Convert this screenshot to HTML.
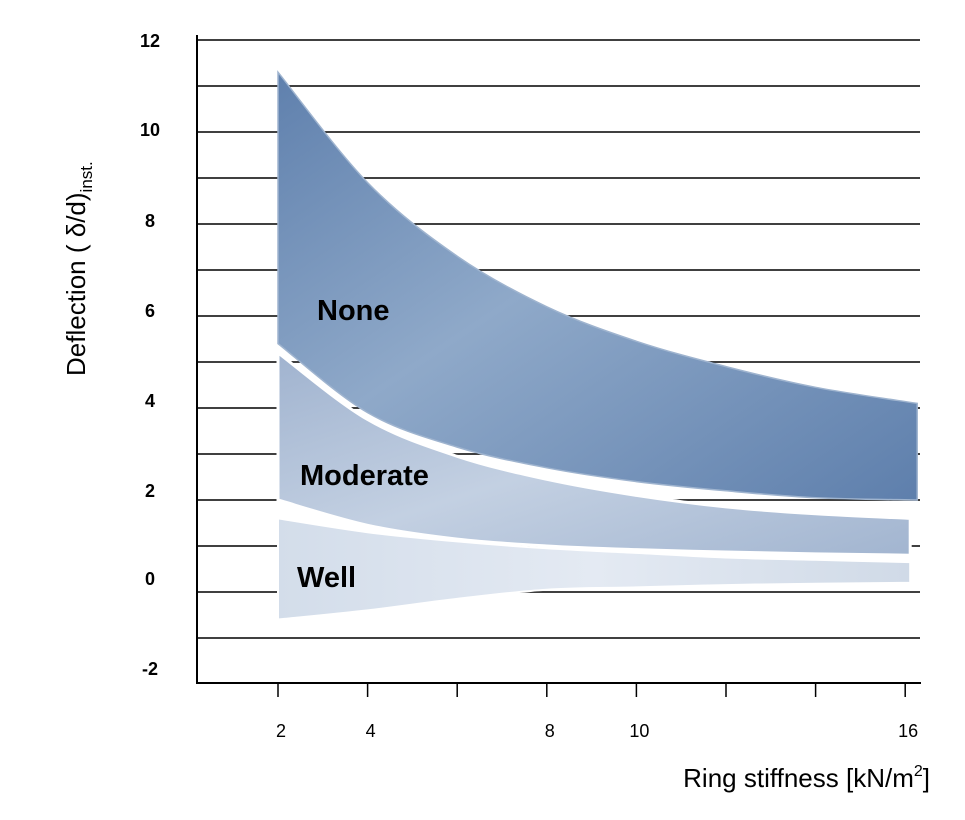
<!DOCTYPE html>
<html><head><meta charset="utf-8"><style>
html,body{margin:0;padding:0;background:#fff;overflow:hidden;}
svg{display:block;font-family:"Liberation Sans",sans-serif;}
</style></head><body>
<svg id="chart" width="965" height="820" viewBox="0 0 965 820">
<defs>
<linearGradient id="gNone" x1="0" y1="0" x2="1" y2="1">
<stop offset="0" stop-color="#5f80ad"/><stop offset="0.45" stop-color="#8fa9c9"/><stop offset="1" stop-color="#5e7fac"/>
</linearGradient>
<linearGradient id="gMod" x1="0" y1="0" x2="1" y2="1">
<stop offset="0" stop-color="#a0b3cf"/><stop offset="0.5" stop-color="#c3d0e2"/><stop offset="1" stop-color="#a2b5d0"/>
</linearGradient>
<linearGradient id="gWell" x1="0" y1="0" x2="1" y2="0">
<stop offset="0" stop-color="#d3ddea"/><stop offset="0.5" stop-color="#e4eaf3"/><stop offset="1" stop-color="#d0dae7"/>
</linearGradient>
</defs>
<g id="grid"></g>
<g id="bands"></g>
<g id="axes"></g>
<text x="317" y="320" font-size="29" font-weight="bold" fill="#000">None</text>
<text x="300" y="485" font-size="29" font-weight="bold" fill="#000">Moderate</text>
<text x="297" y="587" font-size="29" font-weight="bold" fill="#000">Well</text>
<text transform="translate(85,376) rotate(-90)" font-size="26" fill="#000">Deflection ( δ/d)<tspan font-size="17" dy="7">inst.</tspan></text>
<text x="930" y="787" text-anchor="end" font-size="26" fill="#000">Ring stiffness [kN/m<tspan font-size="16" dy="-11">2</tspan><tspan dy="11">]</tspan></text>
</svg>
<script>
const stiffness=[2,4,6,8,10,12,14,16];
const noneUpper=[11.3,8.9,7.3,6.2,5.45,4.9,4.45,4.1];
const noneLower=[5.4,3.9,3.15,2.7,2.4,2.2,2.05,2.0];
const modUpper=[5.2,3.75,2.95,2.45,2.1,1.85,1.7,1.6];
const modLower=[2.0,1.45,1.15,1.0,0.92,0.87,0.83,0.8];
const wellUpper=[1.6,1.3,1.1,0.95,0.85,0.75,0.7,0.65];
const wellLower=[-0.6,-0.4,-0.15,0.05,0.1,0.15,0.18,0.2];
const yTicks=[12,10,8,6,4,2,0,-2];
const xTicks=[2,4,8,10,16];
const xMinor=[2,4,6,8,10,12,14,16];
const NS="http://www.w3.org/2000/svg";
function X(s){return 278+(s-2)*44.8;}
function Y(v){return 592-v*46;}
function mk(tag,attrs,parent){const e=document.createElementNS(NS,tag);for(const k in attrs)e.setAttribute(k,attrs[k]);parent.appendChild(e);return e;}
function P(p){return p[0].toFixed(2)+" "+p[1].toFixed(2);}
function curveSegs(pts){let d="";for(let i=0;i<pts.length-1;i++){const p0=pts[i-1]||pts[i],p1=pts[i],p2=pts[i+1],p3=pts[i+2]||p2;const c1=[p1[0]+(p2[0]-p0[0])/6,p1[1]+(p2[1]-p0[1])/6],c2=[p2[0]-(p3[0]-p1[0])/6,p2[1]-(p3[1]-p1[1])/6];d+=" C "+P(c1)+" "+P(c2)+" "+P(p2);}return d;}
function band(up,lo,ext,fill,stroke,sw,name){const g=document.getElementById('bands');const n=stiffness.length;const u=stiffness.map((s,i)=>[X(s)+(i===n-1?ext:0),Y(up[i])]);const l=stiffness.map((s,i)=>[X(s)+(i===n-1?ext:0),Y(lo[i])]).reverse();
const d="M "+P(u[0])+curveSegs(u)+" L "+P(l[0])+curveSegs(l)+" Z";
const p=mk('path',{d:d,fill:fill,stroke:stroke,'stroke-width':sw},g);

}
const grid=document.getElementById('grid');
for(let v=-1;v<=12;v++){const l=mk('line',{x1:197,x2:920,y1:Y(v),y2:Y(v),stroke:'#000','stroke-width':1.5},grid);

}
band(wellUpper,wellLower,5,'url(#gWell)','#ffffff',2,'band-well');
band(modUpper,modLower,5,'url(#gMod)','#ffffff',3,'band-moderate');
band(noneUpper,noneLower,12,'url(#gNone)','#9fb4cf',1.5,'band-none');
const ax=document.getElementById('axes');
const ya=mk('line',{x1:197,x2:197,y1:35,y2:684,stroke:'#000','stroke-width':2},ax);


const xa=mk('line',{x1:196,x2:921,y1:683,y2:683,stroke:'#000','stroke-width':2},ax);


const yLabelY={12:47,10:136,8:227,6:317,4:407,2:497,0:585,"-2":675};
yTicks.forEach(v=>{const t=mk('text',{x:150,y:yLabelY[v],'text-anchor':'middle','font-size':18,'font-weight':'bold',fill:'#000'},ax);t.textContent=v;

});
xMinor.forEach(s=>{const l=mk('line',{x1:X(s),x2:X(s),y1:683,y2:697,stroke:'#000','stroke-width':1.5},ax);

});
xTicks.forEach(s=>{const t=mk('text',{x:X(s)+3,y:737,'text-anchor':'middle','font-size':18,fill:'#000'},ax);t.textContent=s;

});
</script>
</body></html>
